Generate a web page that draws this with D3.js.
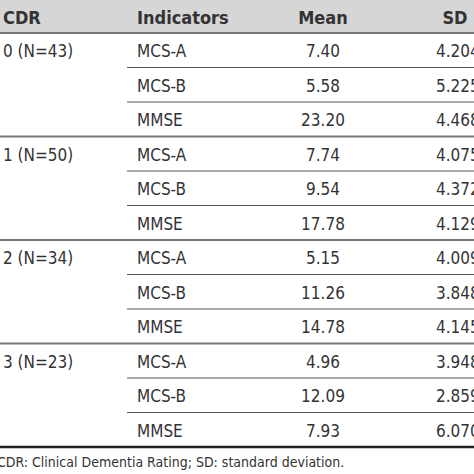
<!DOCTYPE html>
<html><head><meta charset="utf-8">
<script src="https://cdn.jsdelivr.net/npm/d3@7"></script>
<style>body{margin:0;background:#fff} svg text{font-stretch:condensed}</style>
</head><body>
<script>
// table data
var groups = ["0 (N=43)", "1 (N=50)", "2 (N=34)", "3 (N=23)"];
var indicators = ["MCS-A", "MCS-B", "MMSE"];
var means = [[7.40, 5.58, 23.20], [7.74, 9.54, 17.78], [5.15, 11.26, 14.78], [4.96, 12.09, 7.93]];
var sds = [["4.2044", "5.2255", "4.4688"], ["4.0755", "4.3722", "4.1299"], ["4.0099", "3.8488", "4.1455"], ["3.9488", "2.8599", "6.0700"]];
var headers = ["CDR", "Indicators", "Mean", "SD"];

var W = 474, H = 474, headH = 33, rowH = 34.5;
var font = "'DejaVu Sans Condensed','DejaVu Sans',sans-serif";

var svg = d3.select('body').append('svg')
  .attr('width', W).attr('height', H)
  .style('font-family', font);

var y = d3.scaleLinear().domain([0, 12]).range([headH, headH + 12 * rowH]);

// header band
svg.append('rect').attr('x', 0).attr('y', 0).attr('width', W).attr('height', headH).attr('fill', '#d6d6d6');
var hx = [3, 137, 323, 455];
var ha = ['start', 'start', 'middle', 'middle'];
svg.selectAll('text.h').data(headers).enter().append('text')
  .attr('x', (d, i) => hx[i]).attr('y', 24)
  .attr('text-anchor', (d, i) => ha[i])
  .attr('font-size', 18).attr('font-weight', 'bold').attr('fill', '#333')
  .text(d => d);

// rows
var rows = [];
groups.forEach(function(g, gi) {
  indicators.forEach(function(ind, ii) {
    rows.push({g: ii === 0 ? g : '', ind: ind, mean: means[gi][ii].toFixed(2), sd: sds[gi][ii], k: gi * 3 + ii, first: ii === 0});
  });
});

var r = svg.selectAll('g.row').data(rows).enter().append('g')
  .attr('transform', d => 'translate(0,' + y(d.k) + ')');
r.append('text').attr('x', 3).attr('y', 24).text(d => d.g);
r.append('text').attr('x', 137).attr('y', 24).text(d => d.ind);
r.append('text').attr('x', 323).attr('y', 24).attr('text-anchor', 'middle').text(d => d.mean);
r.append('text').attr('x', 436).attr('y', 24).text(d => d.sd);
r.selectAll('text').attr('font-size', 17).attr('fill', '#333');

// thin lines inside groups
svg.selectAll('line.thin').data(rows.filter(d => !d.first)).enter().append('line')
  .attr('x1', 127).attr('x2', W)
  .attr('y1', d => y(d.k)).attr('y2', d => y(d.k))
  .attr('stroke', '#555').attr('stroke-width', 1);

// group lines
svg.selectAll('line.grp').data(d3.range(0, 13, 3)).enter().append('line')
  .attr('x1', 0).attr('x2', W)
  .attr('y1', d => y(d)).attr('y2', d => y(d))
  .attr('stroke', d => d === 12 ? '#222' : '#777')
  .attr('stroke-width', d => d === 12 ? 2.5 : 2);

svg.append('text').attr('x', -3).attr('y', y(12) + 20)
  .attr('font-size', 14).attr('fill', '#333')
  .text('CDR: Clinical Dementia Rating; SD: standard deviation.');
</script>
</body></html>
